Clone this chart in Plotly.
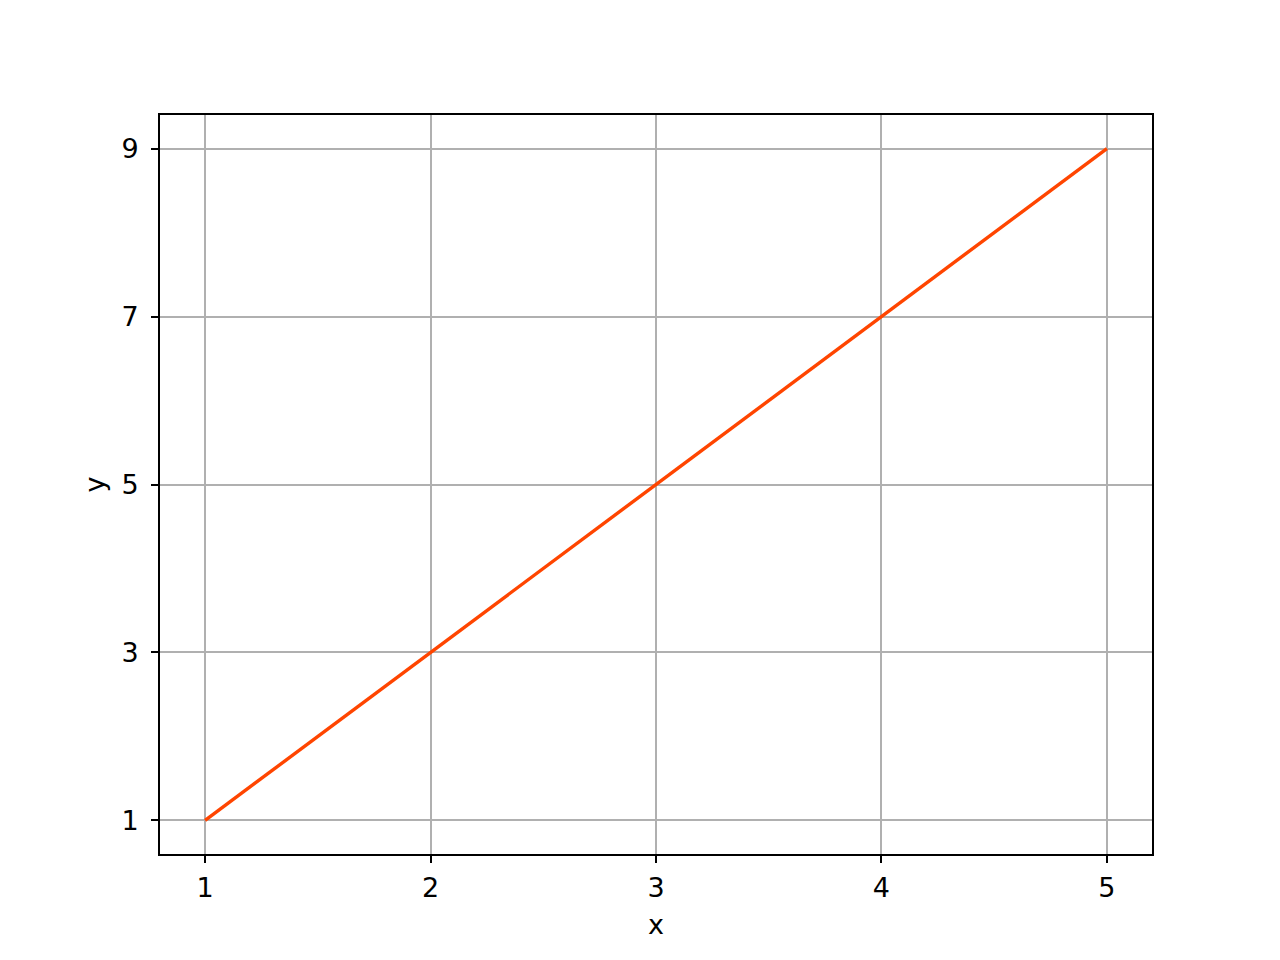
import plotly.graph_objects as go

# data
x_values = [1, 2, 3, 4, 5]
y_values = [1, 3, 5, 7, 9]
x_ticks = [1, 2, 3, 4, 5]
y_ticks = [1, 3, 5, 7, 9]

font = dict(family="DejaVu Sans", size=27, color="black")

fig = go.Figure()
fig.add_trace(go.Scatter(x=x_values, y=y_values, mode="lines",
                         line=dict(color="#FF4500", width=3.4)))

axis_style = dict(
    showline=True, linecolor="black", linewidth=2, mirror=True,
    ticks="outside", ticklen=7, tickwidth=2, tickcolor="black",
    showgrid=True, gridcolor="#b0b0b0", gridwidth=1.8,
    zeroline=False, tickfont=font,
)

# page body has an 8px margin, so margins are shifted to line the axes up
fig.update_layout(
    width=1280, height=960,
    margin=dict(l=152, r=136, t=107, b=114),
    paper_bgcolor="white", plot_bgcolor="white",
    showlegend=False,
    font=font,
    xaxis=dict(range=[0.8, 5.2], tickvals=x_ticks, ticklabelstandoff=2,
               title=dict(text="x", font=font, standoff=13), **axis_style),
    yaxis=dict(range=[0.6, 9.4], tickvals=y_ticks, ticklabelstandoff=7,
               title=dict(text="y", font=font, standoff=9), **axis_style),
)

fig.write_html("out.html")
